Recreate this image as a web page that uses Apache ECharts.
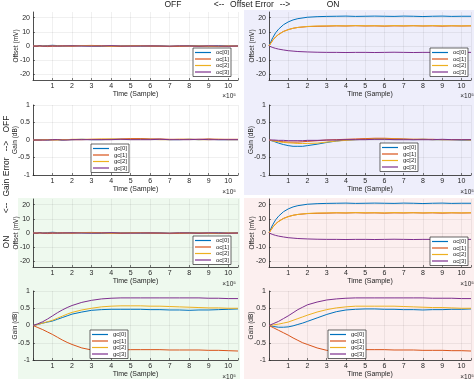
<!DOCTYPE html>
<html><head><meta charset="utf-8">
<script src="https://cdn.jsdelivr.net/npm/echarts@6/dist/echarts.min.js"></script>
<style>html,body{margin:0;padding:0;background:#fff}#c{width:474px;height:379px}</style>
</head><body><div id="c"></div>
<script>
// ---------- DATA ----------
const timeOffset = [0,0.1,0.2,0.35,0.5,0.75,1,1.25,1.5,2,2.5,3,3.5,4,4.5,5,5.5,6,6.5,7,7.5,8,8.5,9,9.5,10,10.5];
const timeGain = [0,0.25,0.5,0.75,1,1.25,1.5,1.75,2,2.5,3,3.5,4,4.5,5,5.5,6,6.5,7,7.5,8,8.5,9,9.5,10,10.5];
const xTicks = [1,2,3,4,5,6,7,8,9,10];
const offsetTicks = [-20,-10,0,10,20];
const gainTicks = [-1,-0.5,0,0.5,1];
const ocNames = ['oc[0]','oc[1]','oc[2]','oc[3]'];
const gcNames = ['gc[0]','gc[1]','gc[2]','gc[3]'];

// offset correction OFF (mV)
const ocOff0 = [0,0.1,-0.1,0.2,0.1,0.3,0.5,0.3,-0.1,0.3,0.1,0,-0.2,0.1,0,0.2,-0.1,0,0.1,-0.2,0,0.3,0.1,-0.1,0.2,0,0.1];
const ocOff1 = [0,-0.2,-0.3,0.1,-0.2,-0.4,-0.2,-0.1,0.2,-0.2,0.3,0.4,0.2,-0.2,-0.3,0.1,0.2,-0.1,-0.2,-0.4,-0.3,-0.1,-0.3,-0.2,-0.4,-0.2,-0.1];
const ocOff2 = [0,0.1,0.2,-0.1,0,0.1,0.2,0,-0.1,0.1,0.2,0.1,0,-0.1,0.1,0,0.1,0.2,0,-0.1,0.1,0,0.1,0,-0.1,0.1,0];
const ocOff3 = [0,-0.1,0,0.1,-0.1,0,0.1,-0.1,0,0.1,0,-0.1,0,0.2,0,-0.1,0,0.1,0,-0.1,0.1,0,-0.1,0.1,0,-0.1,0];
// offset correction ON (mV)
const ocOn0 = [0,3.2,6.0,9.4,11.9,15.0,17.0,18.4,19.3,20.3,20.7,20.9,21.0,21.1,20.9,21.0,21.1,21.0,20.9,21.1,21.0,20.8,21.0,21.1,20.9,21.0,21.0];
const ocOn1 = [0,2.2,4.2,6.5,8.2,10.3,11.6,12.5,13.1,13.7,13.9,14.0,14.2,14.1,14.3,14.1,14.2,14.0,14.2,14.1,14.3,14.1,14.2,14.0,14.2,14.1,14.2];
const ocOn2 = [0,2.1,4.1,6.4,8.1,10.2,11.5,12.5,13.1,13.8,14.1,14.2,14.3,14.2,14.4,14.3,14.3,14.2,14.4,14.3,14.3,14.2,14.4,14.3,14.3,14.2,14.3];
const ocOn3 = [0,-0.6,-1.1,-1.7,-2.2,-2.8,-3.3,-3.6,-3.9,-4.2,-4.4,-4.5,-4.5,-4.6,-4.5,-4.5,-4.6,-4.5,-4.4,-4.5,-4.6,-4.5,-4.5,-4.6,-4.5,-4.5,-4.5];
// gain: offset OFF, gain OFF (dB)
const gcA0 = [0,0,0.01,0,0.01,0.01,0,0.01,0.01,0.02,0.01,0.01,0.02,0.02,0.02,0.03,0.02,0.02,0.01,0.01,0.02,0.01,0.02,0.01,0.01,0.01];
const gcA1 = [0,0,0,0.01,0,0.01,0.01,0.01,0.01,0.01,0.02,0.02,0.02,0.03,0.04,0.04,0.03,0.03,0.02,0.02,0.02,0.02,0.03,0.02,0.02,0.02];
const gcA2 = [0,0,0.01,0.01,0.01,0,0.01,0.01,0.02,0.02,0.02,0.03,0.03,0.02,0.02,0.02,0.02,0.01,0.01,0.02,0.02,0.01,0.01,0.02,0.01,0.01];
const gcA3 = [0,0,0,0,0.01,0.01,0,0,0.01,0.01,0.01,0.01,0.01,0.02,0.01,0.01,0.01,0.02,0.01,0.01,0.01,0.02,0.01,0.01,0.01,0.01];
// gain: offset ON, gain OFF
const gcB0 = [0,-0.04,-0.09,-0.13,-0.16,-0.18,-0.18,-0.18,-0.16,-0.12,-0.07,-0.03,0,0.01,0.02,0.03,0.03,0.02,0.02,0.01,0.02,0.01,0.01,0.01,0,0];
const gcB1 = [0,-0.02,-0.04,-0.05,-0.06,-0.06,-0.06,-0.05,-0.04,-0.02,0,0.01,0.02,0.03,0.04,0.05,0.05,0.04,0.03,0.02,0.02,0.02,0.01,0.01,0.01,0.01];
const gcB2 = [0,-0.03,-0.05,-0.07,-0.08,-0.09,-0.1,-0.1,-0.1,-0.09,-0.06,-0.03,-0.01,0.01,0.02,0.03,0.03,0.03,0.02,0.02,0.02,0.01,0.01,0.01,0.01,0];
const gcB3 = [0,0,-0.01,-0.01,-0.02,-0.02,-0.02,-0.02,-0.01,-0.01,0,0,0.01,0.01,0.01,0.02,0.02,0.01,0.01,0.01,0.01,0.01,0.02,0.01,0.01,0.01];
// gain: offset OFF, gain ON
const gcC0 = [0,0.03,0.07,0.1,0.13,0.18,0.23,0.28,0.33,0.39,0.44,0.46,0.47,0.47,0.47,0.47,0.46,0.46,0.45,0.45,0.44,0.45,0.45,0.46,0.47,0.48];
const gcC1 = [0,-0.06,-0.12,-0.19,-0.26,-0.34,-0.42,-0.49,-0.55,-0.65,-0.71,-0.73,-0.72,-0.71,-0.7,-0.7,-0.7,-0.7,-0.71,-0.71,-0.71,-0.71,-0.72,-0.72,-0.73,-0.74];
const gcC2 = [0,0.03,0.07,0.11,0.15,0.21,0.27,0.33,0.38,0.45,0.5,0.54,0.56,0.57,0.57,0.57,0.56,0.56,0.55,0.54,0.53,0.52,0.51,0.51,0.5,0.5];
const gcC3 = [0,0.05,0.11,0.19,0.28,0.37,0.45,0.52,0.58,0.67,0.73,0.77,0.79,0.8,0.8,0.8,0.8,0.8,0.8,0.8,0.8,0.8,0.79,0.79,0.78,0.78];
// gain: offset ON, gain ON
const gcD0 = [0,-0.03,-0.05,-0.05,-0.04,-0.01,0.03,0.07,0.12,0.22,0.32,0.4,0.45,0.47,0.48,0.48,0.47,0.47,0.46,0.46,0.45,0.46,0.46,0.47,0.47,0.48];
const gcD1 = [0,-0.07,-0.14,-0.21,-0.28,-0.36,-0.43,-0.5,-0.55,-0.65,-0.72,-0.74,-0.73,-0.72,-0.7,-0.7,-0.7,-0.71,-0.71,-0.71,-0.72,-0.72,-0.72,-0.73,-0.73,-0.74];
const gcD2 = [0,0.02,0.04,0.07,0.1,0.15,0.2,0.25,0.3,0.39,0.46,0.51,0.54,0.56,0.56,0.56,0.56,0.56,0.55,0.54,0.53,0.52,0.52,0.51,0.5,0.5];
const gcD3 = [0,0.06,0.12,0.2,0.28,0.37,0.46,0.53,0.6,0.68,0.74,0.77,0.79,0.8,0.8,0.8,0.8,0.8,0.8,0.8,0.8,0.79,0.79,0.79,0.78,0.78];

// ---------- STYLE / LAYOUT ----------
const COLORS = ['#0072BD','#D95319','#EDB120','#7E2F8E'];
const FONT = 'Liberation Sans, Arial, sans-serif';
const AX = '#262626';

const panels = [
  {grid:{left:33,top:12,width:205,height:68},  kind:'offset', t:timeOffset, ys:[ocOff0,ocOff1,ocOff2,ocOff3], leg:{left:193,top:48}, exp:{x:236,y:96}},
  {grid:{left:33,top:105,width:205,height:70}, kind:'gain',   t:timeGain,   ys:[gcA0,gcA1,gcA2,gcA3], leg:{left:91,top:144}, exp:{x:236,y:192}},
  {grid:{left:269,top:12,width:205,height:68}, kind:'offset', t:timeOffset, ys:[ocOn0,ocOn1,ocOn2,ocOn3], leg:{left:430,top:48}, exp:{x:474,y:96}},
  {grid:{left:269,top:105,width:205,height:70},kind:'gain',   t:timeGain,   ys:[gcB0,gcB1,gcB2,gcB3], leg:{left:380,top:143}, exp:{x:474,y:192}},
  {grid:{left:33,top:199,width:205,height:68}, kind:'offset', t:timeOffset, ys:[ocOff0,ocOff1,ocOff2,ocOff3], leg:{left:193,top:236}, exp:{x:236,y:284}},
  {grid:{left:33,top:291,width:205,height:70}, kind:'gain',   t:timeGain,   ys:[gcC0,gcC1,gcC2,gcC3], leg:{left:90,top:330}, exp:{x:236,y:377}},
  {grid:{left:269,top:199,width:205,height:68},kind:'offset', t:timeOffset, ys:[ocOn0,ocOn1,ocOn2,ocOn3], leg:{left:430,top:237}, exp:{x:474,y:284}},
  {grid:{left:269,top:291,width:205,height:70},kind:'gain',   t:timeGain,   ys:[gcD0,gcD1,gcD2,gcD3], leg:{left:328,top:330}, exp:{x:474,y:377}}
];

const grids=[], xAxes=[], yAxes=[], series=[], legends=[], graphics=[];

// panel backgrounds
graphics.push({type:'rect', z:-100, shape:{x:244,y:10,width:230,height:185}, style:{fill:'#eeeefb'}});
graphics.push({type:'rect', z:-100, shape:{x:18,y:198,width:222,height:181}, style:{fill:'#eef9ee'}});
graphics.push({type:'rect', z:-100, shape:{x:244,y:198,width:230,height:181}, style:{fill:'#fcefef'}});

panels.forEach((p,i)=>{
  grids.push(Object.assign({}, p.grid));
  xAxes.push({
    type:'value', gridIndex:i, min:0, max:10.5, interval:1,
    name:'Time (Sample)', nameLocation:'middle', nameGap:11, nameMoveOverlap:false,
    nameTextStyle:{fontSize:7, color:AX, fontFamily:FONT},
    axisLine:{show:true, onZero:false, lineStyle:{color:AX, width:0.8}},
    axisTick:{show:true, inside:true, length:2, lineStyle:{color:AX, width:0.6}},
    axisLabel:{fontSize:7, color:AX, fontFamily:FONT, margin:3,
      formatter:v=> xTicks.indexOf(v)>=0 ? String(v) : ''},
    splitLine:{show:true, lineStyle:{color:'rgba(0,0,0,0.1)', width:0.6}}
  });
  const isOff = p.kind==='offset';
  yAxes.push({
    type:'value', gridIndex:i,
    min: isOff ? -24 : -1, max: isOff ? 24 : 1,
    interval: isOff ? undefined : 0.5,
    name: isOff ? 'Offset (mV)' : 'Gain (dB)', nameLocation:'middle',
    nameGap: isOff ? 13 : 14.5, nameMoveOverlap:false,
    nameTextStyle:{fontSize:6.5, color:AX, fontFamily:FONT},
    axisLine:{show:true, onZero:false, lineStyle:{color:AX, width:0.8}},
    axisTick:{show:true, inside:true, length:2, lineStyle:{color:AX, width:0.6},
      customValues: isOff ? offsetTicks : gainTicks},
    axisLabel:{fontSize:7, color:AX, fontFamily:FONT, margin:3,
      customValues: isOff ? offsetTicks : gainTicks},
    splitLine:{show:true, lineStyle:{color:'rgba(0,0,0,0.1)', width:0.6}}
  });
  const names = isOff ? ocNames : gcNames;
  p.ys.forEach((ys,k)=>{
    series.push({
      type:'line', name:names[k], xAxisIndex:i, yAxisIndex:i,
      data: p.t.map((t,j)=>[t, ys[j]]),
      showSymbol:false, symbol:'none', clip:true,
      lineStyle:{width:1, color:COLORS[k]}, itemStyle:{color:COLORS[k]},
      animation:false
    });
  });
  legends.push({
    data: names, orient:'vertical', left:p.leg.left, top:p.leg.top,
    icon:'rect', itemWidth:16, itemHeight:1.2, itemGap:0.5, itemTextGap:3,
    padding:[1.5,2,1.5,2], backgroundColor:'#fff', borderColor:AX, borderWidth:0.7,
    selectedMode:false,
    textStyle:{fontSize:6, lineHeight:6, color:AX, fontFamily:FONT}
  });
  graphics.push({type:'text', x:p.exp.x, y:p.exp.y,
    style:{text:'×10⁵', fontSize:6.5, fill:AX, fontFamily:FONT, align:'right', verticalAlign:'middle'}});
});

// top title pieces
const TT = {fontSize:8.5, fill:'#1a1a1a', fontFamily:FONT, align:'center', verticalAlign:'middle'};
[['OFF',173],['<--',219],['Offset Error',252],['-->',285],['ON',333]].forEach(([s,x])=>{
  graphics.push({type:'text', x:x, y:5, style:Object.assign({text:s}, TT)});
});
// left title pieces (rotated)
[['OFF',124],['-->',146],['Gain Error',177],['<--',208],['ON',242]].forEach(([s,y])=>{
  graphics.push({type:'text', x:7, y:y, rotation:Math.PI/2, style:Object.assign({text:s}, TT)});
});

const chart = echarts.init(document.getElementById('c'), null, {renderer:'canvas'});
chart.setOption({
  backgroundColor:'#fff', animation:false,
  grid:grids, xAxis:xAxes, yAxis:yAxes, series:series, legend:legends,
  graphic:{elements:graphics}
});
</script></body></html>
